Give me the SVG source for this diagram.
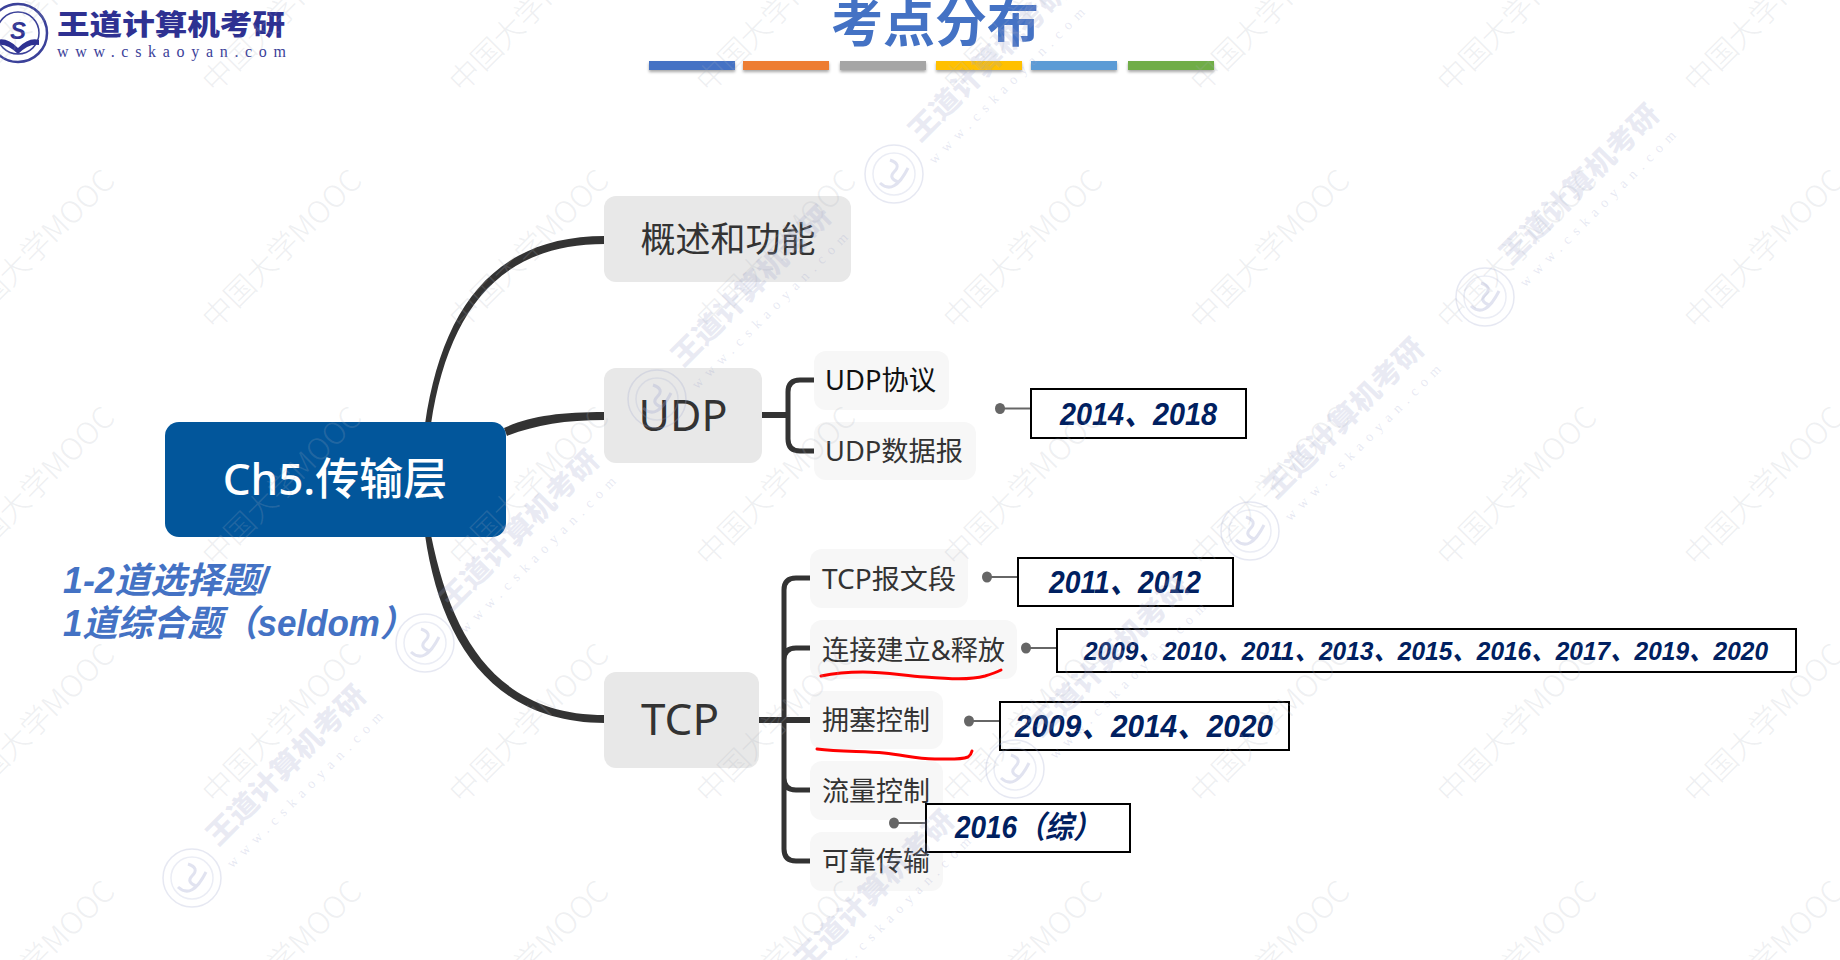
<svg xmlns="http://www.w3.org/2000/svg" xmlns:xlink="http://www.w3.org/1999/xlink" width="1840" height="960" viewBox="0 0 1840 960">
<style>
text{font-family:"Liberation Sans","Noto Sans CJK SC",sans-serif}
.cjk{font-family:"Noto Sans","Noto Sans CJK SC",sans-serif;fill:#333}
.main{fill:#e8e8e8}
.sub{fill:#f7f7f7}
.lead{fill:none;stroke:#666;stroke-width:2}
.dot{fill:#666}
.box{fill:#fff;stroke:#000;stroke-width:2}
.yr{fill:#002060;font-weight:700;font-style:italic;font-size:31px}
.brk{fill:none;stroke:#333;stroke-width:5}
.red{fill:none;stroke:#f00;stroke-width:3;stroke-linecap:round}
.note{fill:#4472c4;font-weight:700;font-style:italic;font-size:36px}
.wm1{font-family:"Noto Sans CJK SC",sans-serif;font-weight:300;font-size:30px;fill:#aab0bc;fill-opacity:.2}
.wm2{font-family:"Noto Sans CJK SC",sans-serif;font-weight:900;font-size:28px;fill:#9ca3cc;fill-opacity:.22}
.wm3{font-family:"Liberation Serif",serif;font-size:14px;fill:#9ca3cc;fill-opacity:.25}
</style>
<defs>
<filter id="sh" x="-5%" y="-30%" width="110%" height="180%"><feDropShadow dx="0" dy="2" stdDeviation="1.5" flood-color="#000" flood-opacity=".35"/></filter>
<text id="m" class="wm1" transform="rotate(-45)" textLength="210" lengthAdjust="spacingAndGlyphs">中国大学MOOC</text>
<g id="w">
<circle r="29" fill="none" stroke="#9ca3cc" stroke-opacity=".25" stroke-width="1.5"/>
<circle r="21" fill="none" stroke="#9ca3cc" stroke-opacity=".2" stroke-width="1.5"/>
<path d="M-14 9Q0 22 14 -6M-4 -14Q8 -10 0 -2Q-6 4 4 8" fill="none" stroke="#9ca3cc" stroke-opacity=".3" stroke-width="3"/>
<text class="wm2" transform="translate(101 -106) rotate(-45)" text-anchor="middle" textLength="212" lengthAdjust="spacingAndGlyphs">王道计算机考研</text>
<text class="wm3" transform="translate(116 -85) rotate(-45)" text-anchor="middle" textLength="214">www.cskaoyan.com</text>
</g>
</defs>
<rect width="1840" height="960" fill="#fff"/>

<g id="logo">
<circle cx="18" cy="33" r="29" fill="#fff" stroke="#3b4199" stroke-width="2.500"/>
<circle cx="18" cy="33" r="21" fill="none" stroke="#3b4199" stroke-width="1.500"/>
<text x="18" y="39" text-anchor="middle" font-size="24" font-weight="700" font-style="italic" fill="#2e3192">S</text>
<path d="M-3 40Q7 37 18 48Q29 37 39 40L39 45Q29 43 18 54Q7 43 -3 45Z" fill="#2e3192"/>
<text x="57" y="35" style="font-family:'Noto Sans CJK SC',sans-serif" font-size="28" font-weight="900" fill="#2e3192" textLength="228" lengthAdjust="spacingAndGlyphs">王道计算机考研</text>
<text x="57" y="57" style="font-family:'Liberation Serif',serif" font-size="16" fill="#3b4199" textLength="229">www.cskaoyan.com</text>
</g>

<g id="title">
<text x="935" y="42" text-anchor="middle" style="font-family:'Noto Sans CJK SC',sans-serif" font-size="52" font-weight="700" fill="#4472c4">考点分布</text>
<g filter="url(#sh)">
<rect x="649" y="61" width="86" height="9" fill="#4472c4"/>
<rect x="743" y="61" width="86" height="9" fill="#ed7d31"/>
<rect x="840" y="61" width="86" height="9" fill="#a5a5a5"/>
<rect x="936" y="61" width="86" height="9" fill="#ffc000"/>
<rect x="1031" y="61" width="86" height="9" fill="#5b9bd5"/>
<rect x="1128" y="61" width="86" height="9" fill="#70ad47"/>
</g>
</g>

<g id="connectors">
<path d="M425 424C442 308 494 236 605 236L605 244C498 244 448 312 431 424Z" fill="#333"/>
<path d="M504 428C530 416 560 412 605 412L605 420C565 420 535 425 507 436Z" fill="#333"/>
<path d="M431 535C452 640 498 715 605 715L605 723C492 723 440 640 425 535Z" fill="#333"/>
<path d="M762 415H788" stroke="#333" stroke-width="6" fill="none"/>
<path class="brk" d="M814 380H800Q788 380 788 392V439Q788 451 800 451H814"/>
<path d="M759 720H810" stroke="#333" stroke-width="6" fill="none"/>
<path class="brk" d="M810 578H796Q784 578 784 590V849Q784 861 796 861H810M810 648H796Q784 648 784 660M784 778Q784 790 796 790H810"/>
</g>

<g id="node-root"><rect x="165" y="422" width="341" height="115" rx="14" fill="#02569b"/><text x="335" y="495" text-anchor="middle" style="font-family:'Noto Sans','Noto Sans CJK SC',sans-serif" font-size="44" font-weight="500" fill="#fff">Ch5.传输层</text></g>
<g id="node-overview"><rect class="main" x="604" y="196" width="247" height="86" rx="12"/><text class="cjk" x="728" y="252" text-anchor="middle" font-size="35">概述和功能</text></g>
<g id="node-udp"><rect class="main" x="604" y="368" width="158" height="95" rx="12"/><text class="cjk" x="683" y="431" text-anchor="middle" font-size="43">UDP</text></g>
<g id="node-tcp"><rect class="main" x="604" y="672" width="155" height="96" rx="12"/><text class="cjk" x="680" y="735" text-anchor="middle" font-size="44">TCP</text></g>
<g id="node-udp1"><rect class="sub" x="814" y="351" width="135" height="59" rx="12"/><text class="cjk" x="825" y="390" font-size="27" style="fill:#111" textLength="111" lengthAdjust="spacingAndGlyphs">UDP协议</text></g>
<g id="node-udp2"><rect class="sub" x="814" y="422" width="162" height="58" rx="12"/><text class="cjk" x="825" y="461" font-size="27" textLength="138" lengthAdjust="spacingAndGlyphs">UDP数据报</text></g>
<g id="node-tcp1"><rect class="sub" x="810" y="549" width="158" height="59" rx="12"/><text class="cjk" x="822" y="589" font-size="27" textLength="134" lengthAdjust="spacingAndGlyphs">TCP报文段</text></g>
<g id="node-tcp2"><rect class="sub" x="810" y="620" width="207" height="59" rx="12"/><text class="cjk" x="822" y="660" font-size="27" textLength="183" lengthAdjust="spacingAndGlyphs">连接建立&amp;释放</text></g>
<g id="node-tcp3"><rect class="sub" x="810" y="691" width="133" height="58" rx="12"/><text class="cjk" x="822" y="730" font-size="27">拥塞控制</text></g>
<g id="node-tcp4"><rect class="sub" x="810" y="761" width="133" height="59" rx="12"/><text class="cjk" x="822" y="801" font-size="27">流量控制</text></g>
<g id="node-tcp5"><rect class="sub" x="810" y="832" width="133" height="59" rx="12"/><text class="cjk" x="822" y="871" font-size="27">可靠传输</text></g>

<g id="note-1"><path class="lead" d="M1000 408.500H1031"/><ellipse class="dot" cx="1000" cy="408.500" rx="5" ry="5.500"/><rect class="box" x="1031" y="389" width="215" height="49"/><text class="yr" x="1060" y="425" textLength="157" lengthAdjust="spacingAndGlyphs">2014、2018</text></g>
<g id="note-2"><path class="lead" d="M987 577H1018"/><ellipse class="dot" cx="987" cy="577" rx="5" ry="5.500"/><rect class="box" x="1018" y="558" width="215" height="48"/><text class="yr" x="1049" y="593" textLength="152" lengthAdjust="spacingAndGlyphs">2011、2012</text></g>
<g id="note-3"><path class="lead" d="M1026 648H1057"/><ellipse class="dot" cx="1026" cy="648" rx="5" ry="5.500"/><rect class="box" x="1057" y="629" width="739" height="43"/><text class="yr" x="1084" y="660" style="font-size:26px" textLength="684" lengthAdjust="spacingAndGlyphs">2009、2010、2011、2013、2015、2016、2017、2019、2020</text></g>
<g id="note-4"><path class="lead" d="M969 721H1000"/><ellipse class="dot" cx="969" cy="721" rx="5" ry="5.500"/><rect class="box" x="1000" y="702" width="289" height="48"/><text class="yr" x="1015" y="737" textLength="258" lengthAdjust="spacingAndGlyphs">2009、2014、2020</text></g>
<g id="note-5"><path class="lead" d="M894 823H926"/><ellipse class="dot" cx="894" cy="823" rx="5" ry="5.500"/><rect class="box" x="926" y="804" width="204" height="48"/><text class="yr" x="955" y="838" textLength="146" lengthAdjust="spacingAndGlyphs">2016（综）</text></g>

<g id="note-text">
<text class="note" x="63" y="593" textLength="205" lengthAdjust="spacingAndGlyphs">1-2道选择题/</text>
<text class="note" x="63" y="636" textLength="352" lengthAdjust="spacingAndGlyphs">1道综合题（seldom）</text>
</g>

<g id="underlines">
<path class="red" d="M821 676Q840 672 863 672C885 672 900 675 925 677C950 679 970 680 985 676Q995 673 1001 670"/>
<path class="red" d="M817 749C840 752 865 751 884 753C905 755 915 759 935 759C950 759 960 760 968 757Q971 755 972 751"/>
</g>

<g id="watermarks">
<use href="#m" transform="translate(-32 94)"/><use href="#m" transform="translate(215 94)"/><use href="#m" transform="translate(462 94)"/><use href="#m" transform="translate(709 94)"/><use href="#m" transform="translate(956 94)"/><use href="#m" transform="translate(1203 94)"/><use href="#m" transform="translate(1450 94)"/><use href="#m" transform="translate(1697 94)"/>
<use href="#m" transform="translate(-32 331)"/><use href="#m" transform="translate(215 331)"/><use href="#m" transform="translate(462 331)"/><use href="#m" transform="translate(709 331)"/><use href="#m" transform="translate(956 331)"/><use href="#m" transform="translate(1203 331)"/><use href="#m" transform="translate(1450 331)"/><use href="#m" transform="translate(1697 331)"/>
<use href="#m" transform="translate(-32 568)"/><use href="#m" transform="translate(215 568)"/><use href="#m" transform="translate(462 568)"/><use href="#m" transform="translate(709 568)"/><use href="#m" transform="translate(956 568)"/><use href="#m" transform="translate(1203 568)"/><use href="#m" transform="translate(1450 568)"/><use href="#m" transform="translate(1697 568)"/>
<use href="#m" transform="translate(-32 805)"/><use href="#m" transform="translate(215 805)"/><use href="#m" transform="translate(462 805)"/><use href="#m" transform="translate(709 805)"/><use href="#m" transform="translate(956 805)"/><use href="#m" transform="translate(1203 805)"/><use href="#m" transform="translate(1450 805)"/><use href="#m" transform="translate(1697 805)"/>
<use href="#m" transform="translate(-32 1042)"/><use href="#m" transform="translate(215 1042)"/><use href="#m" transform="translate(462 1042)"/><use href="#m" transform="translate(709 1042)"/><use href="#m" transform="translate(956 1042)"/><use href="#m" transform="translate(1203 1042)"/><use href="#m" transform="translate(1450 1042)"/><use href="#m" transform="translate(1697 1042)"/>
<use href="#w" transform="translate(894 174)"/><use href="#w" transform="translate(657 399)"/><use href="#w" transform="translate(425 643)"/><use href="#w" transform="translate(192 878)"/>
<use href="#w" transform="translate(1485 297)"/><use href="#w" transform="translate(1250 531)"/><use href="#w" transform="translate(1015 769)"/><use href="#w" transform="translate(780 1003)"/>
</g>
</svg>
